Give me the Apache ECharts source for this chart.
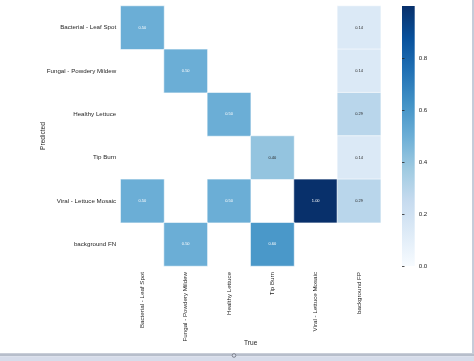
<!DOCTYPE html>
<html>
<head>
<meta charset="utf-8">
<script src="https://cdn.jsdelivr.net/npm/echarts@6/dist/echarts.min.js"></script>
<style>
html,body{margin:0;padding:0;background:#fff;}
#c{width:474px;height:361px;}
</style>
</head>
<body>
<div id="c"></div>
<script>
// categories
const trueLabels = ['Bacterial - Leaf Spot', 'Fungal - Powdery Mildew', 'Healthy Lettuce', 'Tip Burn', 'Viral - Lettuce Mosaic', 'background FP'];
const predLabels = ['Bacterial - Leaf Spot', 'Fungal - Powdery Mildew', 'Healthy Lettuce', 'Tip Burn', 'Viral - Lettuce Mosaic', 'background FN'];
// matrix rows (predicted) x columns (true); 0 = empty cell
const rowBacterial = [0.50, 0, 0, 0, 0, 0.14];
const rowFungal    = [0, 0.50, 0, 0, 0, 0.14];
const rowHealthy   = [0, 0, 0.50, 0, 0, 0.29];
const rowTipBurn   = [0, 0, 0, 0.40, 0, 0.14];
const rowViral     = [0.50, 0, 0.50, 0, 1.00, 0.29];
const rowBgFN      = [0, 0.50, 0, 0.60, 0, 0];
const colorbarTicks = [0, 0.2, 0.4, 0.6, 0.8];

const rows = [rowBacterial, rowFungal, rowHealthy, rowTipBurn, rowViral, rowBgFN];
const blues = ['#f7fbff','#deebf7','#c6dbef','#9ecae1','#6baed6','#4292c6','#2171b5','#08519c','#08306b'];

const data = [];
rows.forEach((r, yi) => r.forEach((v, xi) => {
  if (v > 0) data.push({value: [xi, yi, v], label: {color: v > 0.45 ? '#ffffff' : '#262626'}});
}));

const FONT = 'Liberation Sans, Arial, sans-serif';
const gL = 120.7, gT = 6, gW = 260, gH = 260;

const chart = echarts.init(document.getElementById('c'), null, {renderer: 'canvas'});
chart.setOption({
  animation: false,
  backgroundColor: '#ffffff',
  grid: [
    {left: gL, top: gT, width: gW, height: gH},
    {left: 402, top: gT, width: 12.7, height: gH, show: true, borderWidth: 0,
     backgroundColor: new echarts.graphic.LinearGradient(0, 1, 0, 0,
       blues.map((c, i) => ({offset: i / (blues.length - 1), color: c})))}
  ],
  xAxis: [
    {type: 'category', gridIndex: 0, data: trueLabels,
     axisLine: {show: false}, axisTick: {show: false}, splitLine: {show: false},
     axisLabel: {rotate: 90, margin: 6, fontSize: 6.2, color: '#262626', fontFamily: FONT, interval: 0}},
    {type: 'value', gridIndex: 1, show: false, min: 0, max: 1}
  ],
  yAxis: [
    {type: 'category', gridIndex: 0, data: predLabels, inverse: true,
     axisLine: {show: false}, axisTick: {show: false}, splitLine: {show: false},
     axisLabel: {margin: 4.5, fontSize: 6.2, color: '#262626', fontFamily: FONT, interval: 0}},
    {type: 'value', gridIndex: 1, position: 'right', min: 0, max: 1,
     axisLine: {show: false}, splitLine: {show: false},
     axisTick: {show: true, length: 2.5, lineStyle: {color: '#262626', width: 0.8}, customValues: colorbarTicks},
     axisLabel: {show: true, margin: 4, fontSize: 6.2, color: '#262626', fontFamily: FONT,
       customValues: colorbarTicks, formatter: v => v.toFixed(1)}}
  ],
  visualMap: {
    show: false, min: 0, max: 1, seriesIndex: 0, dimension: 2,
    inRange: {color: blues}
  },
  series: [{
    type: 'heatmap', xAxisIndex: 0, yAxisIndex: 0, data: data,
    itemStyle: {borderColor: '#ffffff', borderWidth: 0.6},
    label: {show: true, fontSize: 4, fontFamily: FONT, formatter: p => p.value[2].toFixed(2)},
    emphasis: {disabled: true}
  }],
  graphic: [
    {type: 'text', x: 42.7, y: 136, rotation: Math.PI / 2,
     style: {text: 'Predicted', font: '6.6px ' + FONT, fill: '#262626', align: 'center', verticalAlign: 'middle'}},
    {type: 'text', x: 250.7, y: 343, style: {text: 'True', font: '6.6px ' + FONT, fill: '#262626', align: 'center', verticalAlign: 'middle'}},
    {type: 'rect', shape: {x: 472, y: 0, width: 2, height: 353}, style: {fill: '#c5ccd9'}},
    {type: 'rect', shape: {x: 0, y: 353.3, width: 474, height: 3}, style: {fill: '#b7becb'}},
    {type: 'rect', shape: {x: 0, y: 356.3, width: 474, height: 4.7}, style: {fill: '#d6dcea'}},
    {type: 'circle', shape: {cx: 234, cy: 355.5, r: 1.8}, style: {fill: '#d6dcea', stroke: '#6b6f78', lineWidth: 0.8}}
  ]
});
</script>
</body>
</html>
